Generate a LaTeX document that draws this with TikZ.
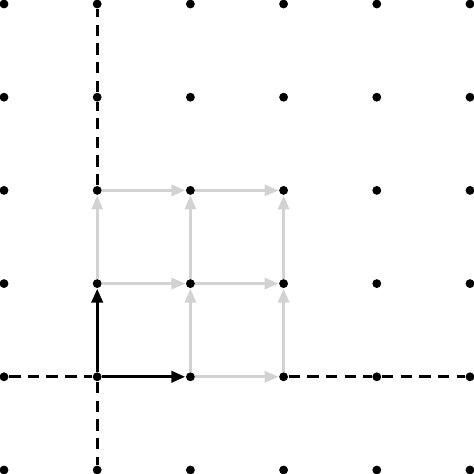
\documentclass[tikz,border=0pt]{standalone}
\usetikzlibrary{arrows.meta}

\begin{document}
\begin{tikzpicture}[
    x=1cm,
    y=1cm,
    dot/.style={
      circle,
      fill=black,
      inner sep=0pt,
      minimum size=0.095cm
    },
    guide/.style={
      dash pattern=on 3.5pt off 2.2pt,
      line width=0.85pt
    },
    basis/.style={
      line width=1pt,
      -{Triangle[length=1.5mm,width=1.2mm]}
    },
    translate/.style={
      draw=gray!35,
      line width=0.8pt,
      -{Triangle[length=1.5mm,width=1.2mm]}
    }
  ]
    \useasboundingbox (-1.043, -1.043) rectangle (4.043, 4.043);

    \node[dot] (p00) at (-1, -1) {};
    \node[dot] (p10) at (0, -1) {};
    \node[dot] (p20) at (1, -1) {};
    \node[dot] (p30) at (2, -1) {};
    \node[dot] (p40) at (3, -1) {};
    \node[dot] (p50) at (4, -1) {};
    \node[dot] (p01) at (-1, 0) {};
    \node[dot] (p11) at (0, 0) {};
    \node[dot] (p21) at (1, 0) {};
    \node[dot] (p31) at (2, 0) {};
    \node[dot] (p41) at (3, 0) {};
    \node[dot] (p51) at (4, 0) {};
    \node[dot] (p02) at (-1, 1) {};
    \node[dot] (p12) at (0, 1) {};
    \node[dot] (p22) at (1, 1) {};
    \node[dot] (p32) at (2, 1) {};
    \node[dot] (p42) at (3, 1) {};
    \node[dot] (p52) at (4, 1) {};
    \node[dot] (p03) at (-1, 2) {};
    \node[dot] (p13) at (0, 2) {};
    \node[dot] (p23) at (1, 2) {};
    \node[dot] (p33) at (2, 2) {};
    \node[dot] (p43) at (3, 2) {};
    \node[dot] (p53) at (4, 2) {};
    \node[dot] (p04) at (-1, 3) {};
    \node[dot] (p14) at (0, 3) {};
    \node[dot] (p24) at (1, 3) {};
    \node[dot] (p34) at (2, 3) {};
    \node[dot] (p44) at (3, 3) {};
    \node[dot] (p54) at (4, 3) {};
    \node[dot] (p05) at (-1, 4) {};
    \node[dot] (p15) at (0, 4) {};
    \node[dot] (p25) at (1, 4) {};
    \node[dot] (p35) at (2, 4) {};
    \node[dot] (p45) at (3, 4) {};
    \node[dot] (p55) at (4, 4) {};

    \draw[guide] (p01) to (p11);
    \draw[guide] (p31) -- (p41) -- (p51);
    \draw[guide] (p11) to (p10);
    \draw[guide] (p13) -- (p14) -- (p15);

    \draw[translate] (p21) to (p31);
    \draw[translate] (p12) to (p22);
    \draw[translate] (p22) to (p32);
    \draw[translate] (p13) to (p23);
    \draw[translate] (p23) to (p33);
    \draw[translate] (p12) to (p13);
    \draw[translate] (p21) to (p22);
    \draw[translate] (p22) to (p23);
    \draw[translate] (p31) to (p32);
    \draw[translate] (p32) to (p33);

    \draw[basis] (p11) to (p21);
    \draw[basis] (p11) to (p12);

  \end{tikzpicture}
\end{document}
